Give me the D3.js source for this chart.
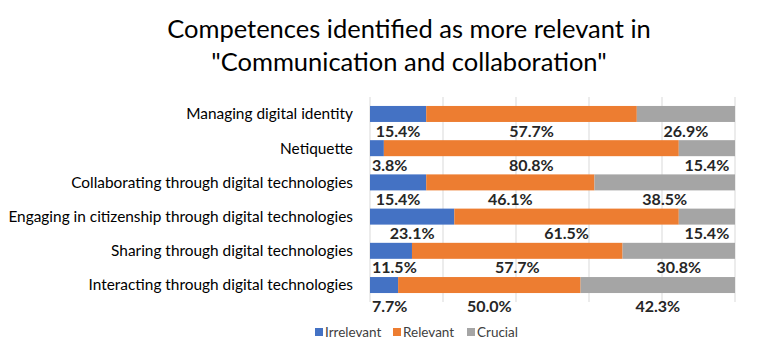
<!DOCTYPE html>
<html><head><meta charset="utf-8">
<script src="https://cdn.jsdelivr.net/npm/d3@7"></script>
<style>body{margin:0;background:#fff}svg{display:block}</style>
</head><body>
<script>
const categories = ["Managing digital identity","Netiquette","Collaborating through digital technologies","Engaging in citizenship through digital technologies","Sharing through digital technologies","Interacting through digital technologies"];
const seriesNames = ["Irrelevant","Relevant","Crucial"];
const irrelevant = [15.4,3.8,15.4,23.1,11.5,7.7];
const relevant = [57.7,80.8,46.1,61.5,57.7,50.0];
const crucial = [26.9,15.4,38.5,15.4,30.8,42.3];
const colors = ["#4472C4","#ED7D31","#A5A5A5"];
const xTicks = [0,20,40,60,80,100];

const W=768,H=350;
const font = "Lato, 'Open Sans', sans-serif";
const svg = d3.select("body").append("svg").attr("width",W).attr("height",H).style("font-family",font);
svg.append("rect").attr("width",W).attr("height",H).attr("fill","#fff");

const title = svg.append("text").attr("text-anchor","middle").attr("fill","#000").attr("font-size",25.5);
title.append("tspan").attr("x",409).attr("y",38).text("Competences identified as more relevant in");
title.append("tspan").attr("x",409).attr("y",71).text("\"Communication and collaboration\"");

const x = d3.scaleLinear().domain([0,100]).range([370,735]);
const y = d3.scaleBand().domain(categories).range([96,303]).paddingInner(0.55).paddingOuter(0.3);

// gridlines
svg.append("g").selectAll("line").data(xTicks).join("line")
  .attr("x1",d=>x(d)).attr("x2",d=>x(d)).attr("y1",97).attr("y2",302)
  .attr("stroke","#d9d9d9").attr("stroke-width",1);

const data = categories.map((c,i)=>({cat:c, vals:[irrelevant[i],relevant[i],crucial[i]]}));
const stacked = [];
data.forEach(d=>{let acc=0; d.vals.forEach((v,k)=>{stacked.push({cat:d.cat,k,v,x0:acc,x1:acc+v}); acc+=v;});});

const bh = 16;
svg.append("g").selectAll("rect").data(stacked).join("rect")
  .attr("x",d=>x(d.x0)).attr("width",d=>x(d.x1)-x(d.x0))
  .attr("y",d=>y(d.cat)+y.bandwidth()/2-bh/2).attr("height",bh)
  .attr("fill",d=>colors[d.k]);

// category labels
svg.append("g").selectAll("text").data(categories).join("text")
  .attr("x",353).attr("y",d=>y(d)+y.bandwidth()/2).attr("dy","0.35em")
  .attr("text-anchor","end").attr("font-size",15.4).attr("fill","#000").text(d=>d);

// data labels
const lbl = svg.append("g").selectAll("text").data(stacked).join("text")
  .attr("y",(d,i)=>y(d.cat)+y.bandwidth()/2+(d.cat===categories[categories.length-1]?21:17)).attr("dy","0.35em")
  .attr("text-anchor","middle").attr("font-size",16).attr("font-weight","bold").attr("fill","#262626")
  .text(d=>d.v.toFixed(1)+"%");
lbl.each(function(d){
  const w=this.getComputedTextLength();
  let cx=(x(d.x0)+x(d.x1))/2;
  cx=Math.max(cx, x(0)+w/2+2);
  cx=Math.min(cx, x(100)-w/2-2);
  d3.select(this).attr("x",cx);
});

// legend
const lg = svg.append("g");
const lx=[315,393,467];
seriesNames.forEach((s,i)=>{
  lg.append("rect").attr("x",lx[i]).attr("y",328).attr("width",8).attr("height",8).attr("fill",colors[i]);
  lg.append("text").attr("x",lx[i]+10).attr("y",332).attr("dy","0.35em").attr("font-size",13.5).attr("fill","#404040").text(s);
});
</script>
</body></html>
